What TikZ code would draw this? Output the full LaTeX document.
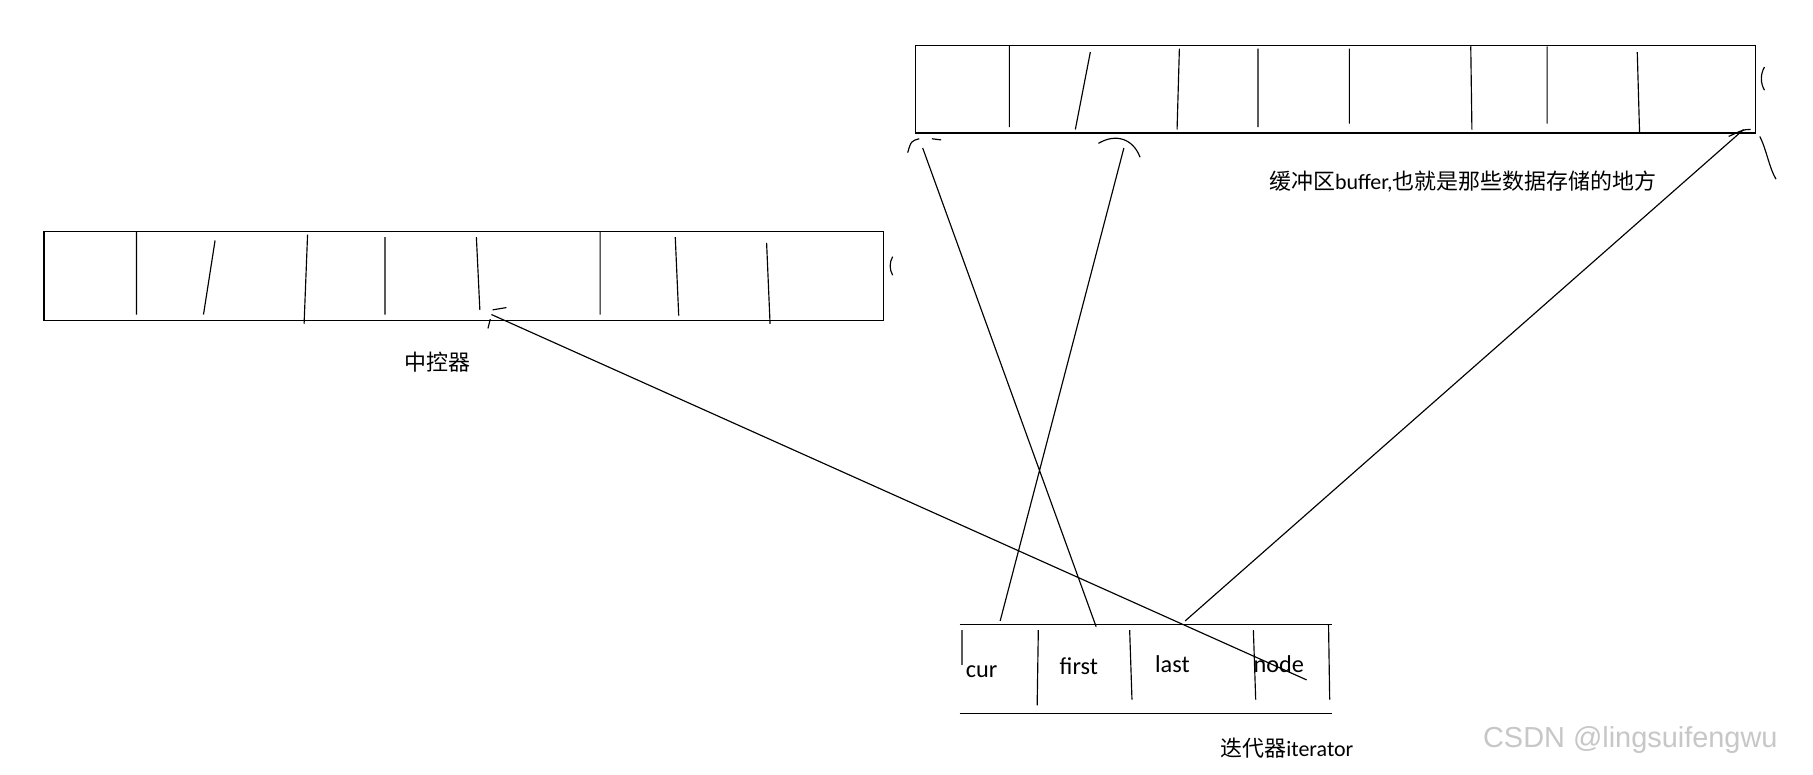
\documentclass[tikz,border=0pt]{standalone}
\usepackage{fontspec}
\setmainfont{Carlito}
\newfontfamily\cjk{Noto Sans CJK SC}
\newfontfamily\wmfont{Liberation Sans}
\begin{document}
\begin{tikzpicture}[x=0.5pt,y=-0.5pt,line width=0.5pt,
  lbl/.style={font=\fontsize{9.5}{11}\selectfont,inner sep=0pt}]
\useasboundingbox[fill=white] (0,0) rectangle (1568,670);
% top buffer
\node[draw,minimum width=363pt,minimum height=38pt,inner sep=0pt] (buf) at (1155,77) {};
\draw (873,39)--(873,110) (943,45)--(930,112) (1020,42)--(1018,112) (1088,42)--(1088,110)
 (1167,42)--(1167,107) (1272,40)--(1273,112) (1338,40)--(1338,107) (1416,45)--(1418,115);
\draw (1526,58) arc (150:210:10pt);
\draw (785,132) .. controls (788,122) .. (795,120) (806,120)--(814,121);
\draw (950,124) .. controls (965,115) and (980,120) .. (986,136);
\draw (1495,118) .. controls (1508,112) .. (1514,112) (1522,118) .. controls (1528,130) and (1530,145) .. (1536,155);
\node[lbl] (buflbl) at (1265,157) {{\cjk 缓冲区}buffer,{\cjk 也就是那些数据存储的地方}};
% left control map
\node[draw,minimum width=363pt,minimum height=38.5pt,inner sep=0pt] (map) at (401,238.5) {};
\draw (118,200)--(118,272) (186,208)--(176,272) (266,203)--(263,280) (333,205)--(333,272)
 (412,205)--(415,268) (519,200)--(519,272) (584,205)--(587,273) (663,210)--(666,280);
\draw (772,222) arc (150:210:8pt);
\draw (426,268)--(438,266) (422,284)--(424,276);
\node[lbl] (maplbl) at (378,313) {\cjk 中控器};
% iterator
\coordinate (itl) at (830,540); \coordinate (itr) at (1152,540);
\coordinate (ibl) at (830,617); \coordinate (ibr) at (1152,617);
\draw (itl)--(itr) (ibl)--(ibr);
\draw (832,545)--(832,575) (898,545)--(897,610) (977,545)--(979,605) (1084,545)--(1086,605) (1149,540)--(1150,605);
\node[lbl,font=\fontsize{10.5}{12}\selectfont] (cur) at (849,581) {cur};
\node[lbl,font=\fontsize{10.5}{12}\selectfont] (first) at (933,576) {first};
\node[lbl,font=\fontsize{10.5}{12}\selectfont] (last) at (1014,574) {last};
\node[lbl,font=\fontsize{10.5}{12}\selectfont] (nd) at (1106,574) {node};
\node[lbl] (itlbl) at (1113,647) {{\cjk 迭代器}iterator};
% connectors
\coordinate (c1) at (865,537); \coordinate (c2) at (948,542); \coordinate (c3) at (1025,537);
\coordinate (c4) at (1130,588);
\coordinate (b1) at (972,128); \coordinate (b2) at (798,128); \coordinate (b3) at (1508,112);
\coordinate (m1) at (425,272);
\draw (c1)--(b1) (c2)--(b2) (c3)--(b3) (m1)--(c4);
\node[lbl,text=black!22,font=\fontsize{12.5}{15}\selectfont\wmfont] (wm) at (1410,640) {CSDN @lingsuifengwu};
\end{tikzpicture}
\end{document}
